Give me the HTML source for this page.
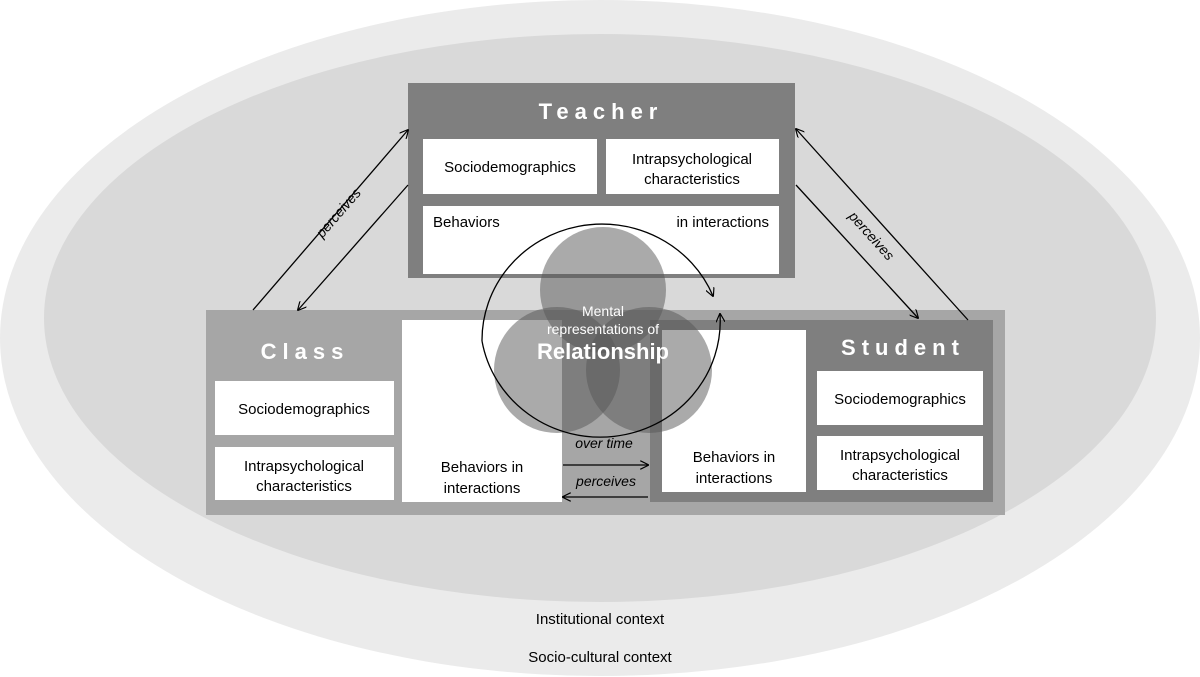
<!DOCTYPE html>
<html><head><meta charset="utf-8"><style>
html,body{margin:0;padding:0;background:#fff;}
svg{display:block;font-family:"Liberation Sans",Arial,sans-serif;}
</style></head><body>
<svg width="1200" height="677" viewBox="0 0 1200 677" xmlns="http://www.w3.org/2000/svg">
<defs>
<marker id="ah" viewBox="0 0 10 10" refX="9" refY="5" markerWidth="9" markerHeight="9" orient="auto-start-reverse" markerUnits="userSpaceOnUse">
<path d="M0,0 L10,5 L0,10" fill="none" stroke="#000" stroke-width="1.3"/>
</marker>
</defs>
<ellipse cx="600" cy="338" rx="600" ry="338" fill="#ebebeb"/>
<ellipse cx="600" cy="318" rx="556" ry="284" fill="#d9d9d9"/>

<!-- Teacher -->
<rect x="408" y="83" width="387" height="195" fill="#7f7f7f"/>
<text x="601" y="119" fill="#fff" font-size="22" font-weight="bold" text-anchor="middle" letter-spacing="6">Teacher</text>
<rect x="423" y="139" width="174" height="55" fill="#fff"/>
<text x="510" y="172" font-size="15" text-anchor="middle">Sociodemographics</text>
<rect x="606" y="139" width="173" height="55" fill="#fff"/>
<text x="692" y="164" font-size="15" text-anchor="middle">Intrapsychological</text>
<text x="692" y="184" font-size="15" text-anchor="middle">characteristics</text>
<rect x="423" y="206" width="356" height="68" fill="#fff"/>
<text x="433" y="227" font-size="15">Behaviors</text>
<text x="769" y="227" font-size="15" text-anchor="end">in interactions</text>

<!-- Class / outer box -->
<rect x="206" y="310" width="799" height="205" fill="#a6a6a6"/>
<rect x="650" y="320" width="343" height="182" fill="#7f7f7f"/>
<text x="305" y="359" fill="#fff" font-size="22" font-weight="bold" text-anchor="middle" letter-spacing="6">Class</text>
<rect x="215" y="381" width="179" height="54" fill="#fff"/>
<text x="304" y="414" font-size="15" text-anchor="middle">Sociodemographics</text>
<rect x="215" y="447" width="179" height="53" fill="#fff"/>
<text x="304" y="471" font-size="15" text-anchor="middle">Intrapsychological</text>
<text x="304" y="491" font-size="15" text-anchor="middle">characteristics</text>
<rect x="402" y="320" width="160" height="182" fill="#fff"/>
<text x="482" y="472" font-size="15" text-anchor="middle">Behaviors in</text>
<text x="482" y="493" font-size="15" text-anchor="middle">interactions</text>

<!-- Student -->
<text x="903" y="355" fill="#fff" font-size="22" font-weight="bold" text-anchor="middle" letter-spacing="6">Student</text>
<rect x="817" y="371" width="166" height="54" fill="#fff"/>
<text x="900" y="404" font-size="15" text-anchor="middle">Sociodemographics</text>
<rect x="817" y="436" width="166" height="54" fill="#fff"/>
<text x="900" y="460" font-size="15" text-anchor="middle">Intrapsychological</text>
<text x="900" y="480" font-size="15" text-anchor="middle">characteristics</text>
<rect x="662" y="330" width="144" height="162" fill="#fff"/>
<text x="734" y="462" font-size="15" text-anchor="middle">Behaviors in</text>
<text x="734" y="483" font-size="15" text-anchor="middle">interactions</text>

<!-- Venn circles -->
<g fill="#555" fill-opacity="0.5">
<circle cx="603" cy="290" r="63"/>
<circle cx="557" cy="370" r="63"/>
<circle cx="649" cy="370" r="63"/>
</g>
<text x="603" y="316" fill="#fff" font-size="14" text-anchor="middle">Mental</text>
<text x="603" y="334" fill="#fff" font-size="14" text-anchor="middle">representations of</text>
<text x="603" y="359" fill="#fff" font-size="22" font-weight="bold" text-anchor="middle">Relationship</text>

<!-- big circle arrows -->
<path d="M482,341 A120,116 0 0 1 713,296" fill="none" stroke="#000" stroke-width="1.3" marker-end="url(#ah)"/>
<path d="M482,341 A120,116 0 0 0 720,314" fill="none" stroke="#000" stroke-width="1.3" marker-end="url(#ah)"/>
<text x="604" y="448" font-size="14" font-style="italic" text-anchor="middle">over time</text>
<line x1="563" y1="465" x2="648" y2="465" stroke="#000" stroke-width="1.3" marker-end="url(#ah)"/>
<text x="606" y="486" font-size="14" font-style="italic" text-anchor="middle">perceives</text>
<line x1="648" y1="497" x2="563" y2="497" stroke="#000" stroke-width="1.3" marker-end="url(#ah)"/>

<!-- perceives left -->
<line x1="253" y1="310" x2="408" y2="130" stroke="#000" stroke-width="1.3" marker-end="url(#ah)"/>
<line x1="408" y1="185" x2="298" y2="310" stroke="#000" stroke-width="1.3" marker-end="url(#ah)"/>
<text x="0" y="0" font-size="14" font-style="italic" text-anchor="middle" transform="translate(342,216) rotate(-49)">perceives</text>
<!-- perceives right -->
<line x1="968" y1="320" x2="796" y2="129" stroke="#000" stroke-width="1.3" marker-end="url(#ah)"/>
<line x1="796" y1="185" x2="918" y2="318" stroke="#000" stroke-width="1.3" marker-end="url(#ah)"/>
<text x="0" y="0" font-size="14" font-style="italic" text-anchor="middle" transform="translate(868,239) rotate(48)">perceives</text>

<text x="600" y="624" font-size="15" text-anchor="middle">Institutional context</text>
<text x="600" y="662" font-size="15" text-anchor="middle">Socio-cultural context</text>
</svg>
</body></html>
